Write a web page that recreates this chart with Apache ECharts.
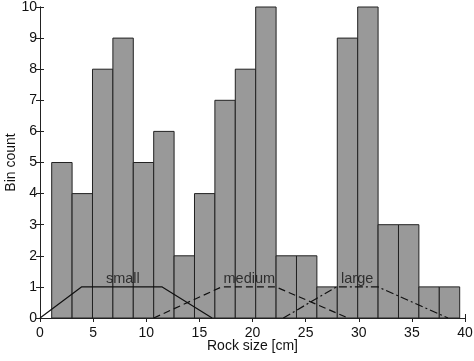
<!DOCTYPE html>
<html><head><meta charset="utf-8">
<script src="https://cdn.jsdelivr.net/npm/echarts@6/dist/echarts.min.js"></script>
<style>html,body{margin:0;padding:0;background:#fff}#c{width:474px;height:361px}</style>
</head><body><div id="c"></div>
<script>
// Histogram bin edges (cm) and counts
const binEdges = [1.1, 3.02, 4.94, 6.86, 8.78, 10.7, 12.62, 14.54, 16.46, 18.38, 20.3, 22.22, 24.14, 26.06, 27.98, 29.9, 31.82, 33.74, 35.66, 37.58, 39.5];
const binCounts = [5, 4, 8, 9, 5, 6, 2, 4, 7, 8, 10, 2, 2, 1, 9, 10, 3, 3, 1, 1];
// Membership functions (x, membership)
const smallMF = [[0, 0], [3.9, 1], [11.5, 1], [16.2, 0]];
const mediumMF = [[10.7, 0], [17.1, 1], [22.2, 1], [29.0, 0]];
const largeMF = [[22.9, 0], [27.9, 1], [31.8, 1], [38.4, 0]];
// Labels
const mfLabels = [[7.8, 1.27, 'small'], [19.7, 1.27, 'medium'], [29.85, 1.27, 'large']];
const xTicks = [0, 5, 10, 15, 20, 25, 30, 35, 40];
const yTicks = [0, 1, 2, 3, 4, 5, 6, 7, 8, 9, 10];

const FONT = 'Liberation Sans, Arial, sans-serif';
const bars = binCounts.map((c, i) => [binEdges[i], binEdges[i + 1], c]);

const chart = echarts.init(document.getElementById('c'));
const axisLine = {show: true, lineStyle: {color: '#222', width: 1}};
const tick = {show: true, inside: true, length: 4, lineStyle: {color: '#222'}};
chart.setOption({
  animation: false,
  grid: {left: 40, right: 9, top: 7, bottom: 43, containLabel: false, outerBoundsMode: 'none'},
  xAxis: [{
    type: 'value', min: xTicks[0], max: xTicks[xTicks.length - 1], interval: 5,
    name: 'Rock size [cm]', nameLocation: 'middle', nameGap: 21, nameMoveOverlap: false,
    nameTextStyle: {fontFamily: FONT, fontSize: 14, color: '#111'},
    axisLine: axisLine, axisTick: tick,
    axisLabel: {fontFamily: FONT, fontSize: 14, color: '#111', margin: 8},
    splitLine: {show: false}
  }, {
    type: 'value', position: 'top', min: 0, max: 40, interval: 5,
    axisLine: axisLine, axisTick: tick,
    axisLabel: {show: false}, splitLine: {show: false}
  }],
  yAxis: [{
    type: 'value', min: yTicks[0], max: yTicks[yTicks.length - 1], interval: 1,
    name: 'Bin count', nameLocation: 'middle', nameGap: 22, nameMoveOverlap: false,
    nameTextStyle: {fontFamily: FONT, fontSize: 14, color: '#111'},
    axisLine: axisLine, axisTick: tick,
    axisLabel: {fontFamily: FONT, fontSize: 14, color: '#111', margin: 3},
    splitLine: {show: false}
  }, {
    type: 'value', position: 'right', min: 0, max: 10, interval: 1,
    axisLine: axisLine, axisTick: tick,
    axisLabel: {show: false}, splitLine: {show: false}
  }],
  series: [{
    type: 'custom',
    data: bars,
    renderItem: function (params, api) {
      const p0 = api.coord([api.value(0), 0]);
      const p1 = api.coord([api.value(1), api.value(2)]);
      return {
        type: 'rect',
        shape: {x: p0[0], y: p1[1], width: p1[0] - p0[0], height: p0[1] - p1[1]},
        style: {fill: '#999999', stroke: '#222', lineWidth: 1}
      };
    },
    z: 1
  }, {
    type: 'line', data: smallMF, symbol: 'none',
    lineStyle: {color: '#111', width: 1.2, type: 'solid'}, z: 3
  }, {
    type: 'line', data: mediumMF, symbol: 'none',
    lineStyle: {color: '#111', width: 1.2, type: [7, 4]}, z: 3
  }, {
    type: 'line', data: largeMF, symbol: 'none',
    lineStyle: {color: '#111', width: 1.2, type: [8, 3, 2, 3]}, z: 3
  }, {
    type: 'scatter', symbolSize: 0, data: mfLabels,
    label: {show: true, position: 'inside', formatter: p => p.data[2],
      fontFamily: FONT, fontSize: 14.5, color: '#111'},
    z: 4
  }]
});
</script></body></html>
